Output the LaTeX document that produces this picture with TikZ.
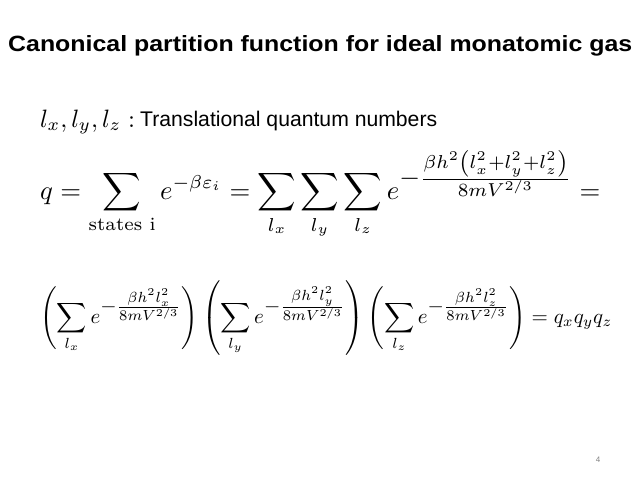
\documentclass[tikz,border=0pt]{standalone}
\usepackage{amsmath}
\usepackage{graphicx}
\usepackage{fontspec}
\newfontfamily\arialf{Liberation Sans}
\begin{document}
\begin{tikzpicture}[x=1pt,y=1pt,
  lbl/.style={inner sep=0pt,anchor=west}]
\useasboundingbox (0,0) rectangle (638,-478);
\node[lbl] (title) at (8,-46) {\resizebox{624pt}{16pt}{\arialf\bfseries Canonical partition function for ideal monatomic gas}};
\node[lbl] (qn) at (40,-122) {\resizebox{95pt}{!}{$l_x, l_y, l_z :$}};
\node[lbl] (qt) at (140,-121) {\resizebox{297pt}{!}{\arialf Translational quantum numbers}};
\node[lbl] (eq1) at (40,-195) {\resizebox{560pt}{!}{$\displaystyle q=\sum_{\text{states i}} e^{-\beta\varepsilon_i} = \sum_{l_x}\sum_{l_y}\sum_{l_z} e^{\textstyle-\frac{\beta h^2\left(l_x^2+l_y^2+l_z^2\right)}{8mV^{2/3}}} =$}};
\node[lbl] (eq2) at (40,-318) {\resizebox{572pt}{!}{$\displaystyle \left(\sum_{l_x} e^{\textstyle-\frac{\beta h^2 l_x^2}{8mV^{2/3}}}\right)\left(\sum_{l_y} e^{\textstyle-\frac{\beta h^2 l_y^2}{8mV^{2/3}}}\right)\left(\sum_{l_z} e^{\textstyle-\frac{\beta h^2 l_z^2}{8mV^{2/3}}}\right) = q_xq_yq_z$}};
\node[inner sep=0pt] (pg) at (598,-460) {\arialf\fontsize{8}{10}\selectfont\color{gray}4};
\end{tikzpicture}
\end{document}
